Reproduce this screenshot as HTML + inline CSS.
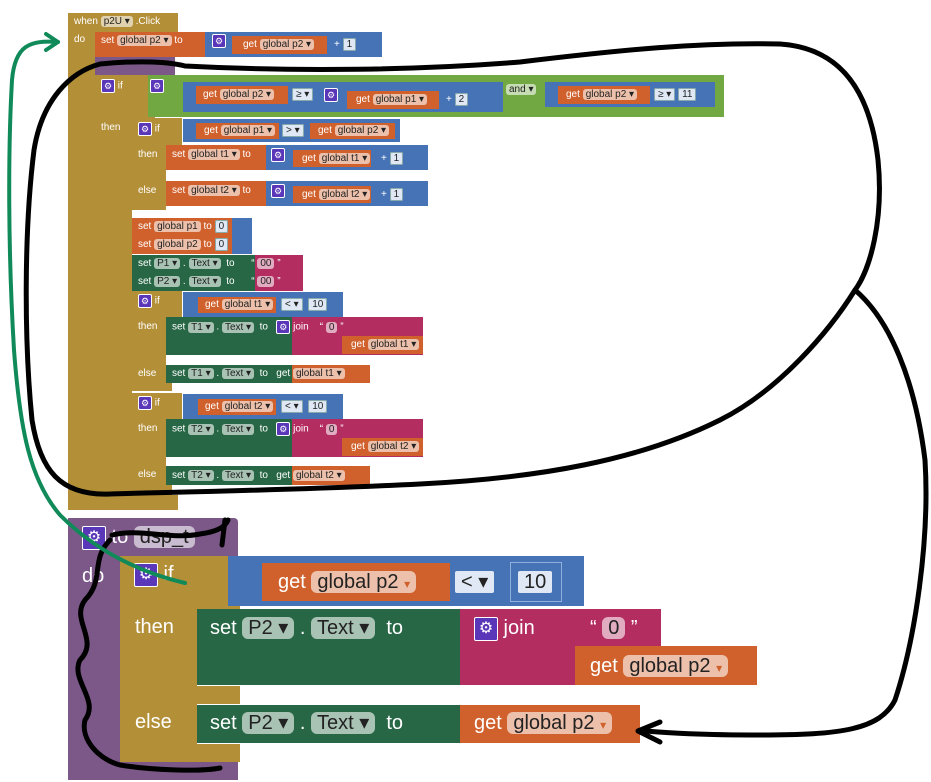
<!DOCTYPE html>
<html><head><meta charset="utf-8"><style>
body{margin:0;width:931px;height:782px;background:#fff;position:relative;overflow:hidden;font-family:"Liberation Sans",sans-serif}
.b{position:absolute}
.go{background:#b38f38}.o{background:#d0612c}.bl{background:#4673b6}.lg{background:#72a841}.dg{background:#276745}.m{background:#b42d61}.pu{background:#7c5889}
.t{position:absolute;color:#fff;font-size:10px;white-space:nowrap;line-height:14px}
.p{background:rgba(255,255,255,.6);color:#222;border-radius:3px;padding:0 3px}
.n{background:#dfe8f4;color:#222;border-radius:2px;padding:0 3px;border:1px solid #8aa}
.L{font-size:20px;line-height:26px}
.L .p{border-radius:6px;padding:0 6px}
.gear{display:inline-block;width:12px;height:12px;background:#5a36b8;border:1px solid #fff;border-radius:2px;vertical-align:middle;color:#fff;font-size:9px;line-height:12px;text-align:center}
.L .gear{width:22px;height:22px;font-size:16px;line-height:22px}
</style></head><body>
<!-- top event block -->
<div class="b go" style="left:68px;top:13px;width:110px;height:20px"></div>
<div class="b go" style="left:68px;top:13px;width:27px;height:497px"></div>
<div class="b go" style="left:68px;top:495px;width:110px;height:15px"></div>
<div class="t" style="left:74px;top:15px">when <span class="p">p2U ▾</span> .Click</div>
<div class="t" style="left:74px;top:33px">do</div>
<div class="b o" style="left:95px;top:32px;width:110px;height:25px"></div>
<div class="b bl" style="left:205px;top:32px;width:177px;height:25px"></div>
<div class="b o" style="left:232px;top:36px;width:95px;height:18px"></div>
<div class="t" style="left:101px;top:34px">set <span class="p">global p2 ▾</span> to</div>
<div class="t" style="left:212px;top:34px"><span class="gear">⚙</span></div>
<div class="t" style="left:243px;top:38px">get <span class="p">global p2 ▾</span></div>
<div class="t" style="left:334px;top:38px">+ <span class="n">1</span></div>
<div class="b pu" style="left:95px;top:57px;width:80px;height:18px"></div>
<!-- if block -->
<div class="b go" style="left:95px;top:75px;width:60px;height:43px"></div>
<div class="b go" style="left:95px;top:75px;width:37px;height:428px"></div>
<div class="b go" style="left:95px;top:490px;width:60px;height:13px"></div>
<div class="t" style="left:101px;top:79px"><span class="gear">⚙</span> if</div>
<div class="t" style="left:101px;top:121px">then</div>
<div class="b lg" style="left:148px;top:75px;width:576px;height:42px"></div>
<div class="t" style="left:150px;top:79px"><span class="gear">⚙</span></div>
<div class="b bl" style="left:183px;top:82px;width:320px;height:30px"></div>
<div class="b o" style="left:196px;top:86px;width:92px;height:18px"></div>
<div class="t" style="left:203px;top:88px">get <span class="p">global p2 ▾</span></div>
<div class="t" style="left:292px;top:88px"><span class="n">≥ ▾</span></div>
<div class="t" style="left:324px;top:88px"><span class="gear">⚙</span></div>
<div class="b o" style="left:347px;top:91px;width:92px;height:18px"></div>
<div class="t" style="left:356px;top:93px">get <span class="p">global p1 ▾</span></div>
<div class="t" style="left:446px;top:93px">+ <span class="n">2</span></div>
<div class="t" style="left:506px;top:83px"><span class="p">and ▾</span></div>
<div class="b bl" style="left:545px;top:82px;width:170px;height:25px"></div>
<div class="b o" style="left:558px;top:86px;width:92px;height:18px"></div>
<div class="t" style="left:566px;top:88px">get <span class="p">global p2 ▾</span></div>
<div class="t" style="left:654px;top:88px"><span class="n">≥ ▾</span> <span class="n">11</span></div>
<!-- inner if 1 -->
<div class="b go" style="left:132px;top:118px;width:50px;height:30px"></div>
<div class="b go" style="left:132px;top:118px;width:34px;height:92px"></div>
<div class="t" style="left:138px;top:122px"><span class="gear">⚙</span> if</div>
<div class="t" style="left:138px;top:148px">then</div>
<div class="t" style="left:138px;top:184px">else</div>
<div class="b bl" style="left:183px;top:119px;width:217px;height:23px"></div>
<div class="b o" style="left:196px;top:123px;width:83px;height:16px"></div>
<div class="t" style="left:204px;top:124px">get <span class="p">global p1 ▾</span></div>
<div class="t" style="left:282px;top:124px"><span class="n">&gt; ▾</span></div>
<div class="b o" style="left:310px;top:123px;width:85px;height:16px"></div>
<div class="t" style="left:318px;top:124px">get <span class="p">global p2 ▾</span></div>
<div class="b o" style="left:166px;top:145px;width:100px;height:25px"></div>
<div class="b bl" style="left:266px;top:145px;width:162px;height:25px"></div>
<div class="b o" style="left:293px;top:150px;width:78px;height:17px"></div>
<div class="t" style="left:172px;top:148px">set <span class="p">global t1 ▾</span> to</div>
<div class="t" style="left:271px;top:148px"><span class="gear">⚙</span></div>
<div class="t" style="left:302px;top:152px">get <span class="p">global t1 ▾</span></div>
<div class="t" style="left:381px;top:152px">+ <span class="n">1</span></div>
<div class="b o" style="left:166px;top:181px;width:100px;height:25px"></div>
<div class="b bl" style="left:266px;top:181px;width:162px;height:25px"></div>
<div class="b o" style="left:293px;top:186px;width:78px;height:17px"></div>
<div class="t" style="left:172px;top:184px">set <span class="p">global t2 ▾</span> to</div>
<div class="t" style="left:271px;top:184px"><span class="gear">⚙</span></div>
<div class="t" style="left:302px;top:188px">get <span class="p">global t2 ▾</span></div>
<div class="t" style="left:381px;top:188px">+ <span class="n">1</span></div>
<!-- sets -->
<div class="b o" style="left:132px;top:218px;width:100px;height:18px"></div>
<div class="b bl" style="left:232px;top:218px;width:20px;height:18px"></div>
<div class="t" style="left:138px;top:220px">set <span class="p">global p1</span> to <span class="n">0</span></div>
<div class="b o" style="left:132px;top:236px;width:100px;height:18px"></div>
<div class="b bl" style="left:232px;top:236px;width:20px;height:18px"></div>
<div class="t" style="left:138px;top:238px">set <span class="p">global p2</span> to <span class="n">0</span></div>
<div class="b dg" style="left:132px;top:255px;width:123px;height:18px"></div>
<div class="b m" style="left:255px;top:255px;width:48px;height:18px"></div>
<div class="t" style="left:138px;top:257px">set <span class="p">P1 ▾</span> . <span class="p">Text ▾</span> &nbsp;to &nbsp;&nbsp;&nbsp;&nbsp; “ <span class="p">00</span> ”</div>
<div class="b dg" style="left:132px;top:273px;width:123px;height:18px"></div>
<div class="b m" style="left:255px;top:273px;width:48px;height:18px"></div>
<div class="t" style="left:138px;top:275px">set <span class="p">P2 ▾</span> . <span class="p">Text ▾</span> &nbsp;to &nbsp;&nbsp;&nbsp;&nbsp; “ <span class="p">00</span> ”</div>
<!-- if 2 -->
<div class="b go" style="left:132px;top:291px;width:50px;height:27px"></div>
<div class="b go" style="left:132px;top:291px;width:34px;height:100px"></div>
<div class="b go" style="left:132px;top:383px;width:40px;height:8px"></div>
<div class="t" style="left:138px;top:294px"><span class="gear">⚙</span> if</div>
<div class="t" style="left:138px;top:320px">then</div>
<div class="t" style="left:138px;top:367px">else</div>
<div class="b bl" style="left:183px;top:292px;width:160px;height:25px"></div>
<div class="b o" style="left:198px;top:297px;width:78px;height:16px"></div>
<div class="t" style="left:205px;top:298px">get <span class="p">global t1 ▾</span></div>
<div class="t" style="left:281px;top:298px"><span class="n">&lt; ▾</span> &nbsp;<span class="n">10</span></div>
<div class="b dg" style="left:166px;top:317px;width:126px;height:38px"></div>
<div class="b m" style="left:292px;top:317px;width:131px;height:38px"></div>
<div class="b o" style="left:342px;top:336px;width:81px;height:18px"></div>
<div class="t" style="left:172px;top:320px">set <span class="p">T1 ▾</span> . <span class="p">Text ▾</span> &nbsp;to &nbsp;&nbsp;<span class="gear">⚙</span> join &nbsp;&nbsp;&nbsp;“ <span class="p">0</span> ”</div>
<div class="t" style="left:351px;top:338px">get <span class="p">global t1 ▾</span></div>
<div class="b dg" style="left:166px;top:365px;width:126px;height:18px"></div>
<div class="b o" style="left:292px;top:365px;width:78px;height:18px"></div>
<div class="t" style="left:172px;top:367px">set <span class="p">T1 ▾</span> . <span class="p">Text ▾</span> &nbsp;to &nbsp;&nbsp;get <span class="p">global t1 ▾</span></div>
<!-- if 3 -->
<div class="b go" style="left:132px;top:393px;width:50px;height:27px"></div>
<div class="b go" style="left:132px;top:393px;width:34px;height:102px"></div>
<div class="b go" style="left:132px;top:485px;width:40px;height:10px"></div>
<div class="t" style="left:138px;top:396px"><span class="gear">⚙</span> if</div>
<div class="t" style="left:138px;top:422px">then</div>
<div class="t" style="left:138px;top:468px">else</div>
<div class="b bl" style="left:183px;top:394px;width:160px;height:25px"></div>
<div class="b o" style="left:198px;top:399px;width:78px;height:16px"></div>
<div class="t" style="left:205px;top:400px">get <span class="p">global t2 ▾</span></div>
<div class="t" style="left:281px;top:400px"><span class="n">&lt; ▾</span> &nbsp;<span class="n">10</span></div>
<div class="b dg" style="left:166px;top:419px;width:126px;height:38px"></div>
<div class="b m" style="left:292px;top:419px;width:131px;height:38px"></div>
<div class="b o" style="left:342px;top:438px;width:81px;height:18px"></div>
<div class="t" style="left:172px;top:422px">set <span class="p">T2 ▾</span> . <span class="p">Text ▾</span> &nbsp;to &nbsp;&nbsp;<span class="gear">⚙</span> join &nbsp;&nbsp;&nbsp;“ <span class="p">0</span> ”</div>
<div class="t" style="left:351px;top:440px">get <span class="p">global t2 ▾</span></div>
<div class="b dg" style="left:166px;top:466px;width:126px;height:19px"></div>
<div class="b o" style="left:292px;top:466px;width:78px;height:19px"></div>
<div class="t" style="left:172px;top:469px">set <span class="p">T2 ▾</span> . <span class="p">Text ▾</span> &nbsp;to &nbsp;&nbsp;get <span class="p">global t2 ▾</span></div>

<!-- bottom procedure -->
<div class="b pu" style="left:68px;top:518px;width:170px;height:38px;border-radius:4px 4px 0 0"></div>
<div class="b pu" style="left:68px;top:518px;width:52px;height:262px"></div>
<div class="b pu" style="left:68px;top:762px;width:170px;height:18px"></div>
<div class="t L" style="left:82px;top:524px"><span class="gear">⚙</span> to <span class="p">dsp_t</span></div>
<div class="t L" style="left:82px;top:563px">do</div>
<div class="b go" style="left:120px;top:556px;width:120px;height:54px"></div>
<div class="b go" style="left:120px;top:556px;width:77px;height:206px"></div>
<div class="b go" style="left:120px;top:686px;width:120px;height:18px"></div>
<div class="b go" style="left:120px;top:744px;width:120px;height:18px"></div>
<div class="t L" style="left:134px;top:561px"><span class="gear">⚙</span> if</div>
<div class="t L" style="left:135px;top:614px">then</div>
<div class="t L" style="left:135px;top:709px">else</div>
<div class="b bl" style="left:228px;top:556px;width:356px;height:50px"></div>
<div class="b o" style="left:262px;top:563px;width:188px;height:38px"></div>
<div class="t L" style="left:278px;top:569px">get <span class="p">global p2 <span style="color:#d0612c;font-size:12px">▾</span></span></div>
<div class="t L" style="left:455px;top:569px"><span class="n" style="border:0;padding:0 6px">&lt; ▾</span></div>
<div class="b" style="left:510px;top:562px;width:50px;height:38px;border:1px solid #8fb0dc"></div>
<div class="t L" style="left:518px;top:569px"><span class="n" style="border:0;padding:0 6px">10</span></div>
<div class="b dg" style="left:197px;top:609px;width:263px;height:76px"></div>
<div class="b m" style="left:460px;top:609px;width:115px;height:76px"></div>
<div class="b m" style="left:575px;top:609px;width:86px;height:38px"></div>
<div class="b o" style="left:575px;top:646px;width:182px;height:39px"></div>
<div class="t L" style="left:210px;top:615px">set <span class="p">P2 ▾</span> . <span class="p">Text ▾</span> &nbsp;to</div>
<div class="t L" style="left:474px;top:615px"><span class="gear">⚙</span> join</div>
<div class="t L" style="left:590px;top:615px">“ <span class="p">0</span> ”</div>
<div class="t L" style="left:590px;top:653px">get <span class="p">global p2 <span style="color:#d0612c;font-size:12px">▾</span></span></div>
<div class="b dg" style="left:197px;top:705px;width:263px;height:38px"></div>
<div class="b o" style="left:460px;top:705px;width:180px;height:38px"></div>
<div class="t L" style="left:210px;top:710px">set <span class="p">P2 ▾</span> . <span class="p">Text ▾</span> &nbsp;to</div>
<div class="t L" style="left:474px;top:710px">get <span class="p">global p2 <span style="color:#d0612c;font-size:12px">▾</span></span></div>

<svg class="b" style="left:0;top:0" width="931" height="782" fill="none" stroke-linecap="round" stroke-linejoin="round">
<path d="M100,64 C140,60 170,62 185,66 C300,72 420,70 520,62 C620,50 700,42 780,44 C840,48 870,90 878,160 C884,220 870,270 855,290 C830,330 780,390 720,420 C640,460 540,478 420,484 C300,490 180,492 110,494 C60,496 40,470 32,420 C24,340 24,230 34,150 C42,100 70,72 100,64" stroke="#000" stroke-width="5"/>
<path d="M855,290 C890,320 915,380 925,460 C930,540 915,640 895,700 C880,730 840,735 760,735 C700,735 670,733 645,731" stroke="#000" stroke-width="5"/>
<path d="M660,722 L638,731 L660,742" stroke="#000" stroke-width="5"/>
<path d="M112,535 C140,528 170,540 200,534 C215,532 225,528 228,520 M225,520 L222,545" stroke="#000" stroke-width="5"/>
<path d="M110,540 C90,560 105,580 85,600 C70,620 100,640 80,660 C70,680 100,700 85,720 C80,740 100,760 120,765 C150,770 200,772 220,768" stroke="#000" stroke-width="5"/>
<path d="M58,42 C30,40 15,45 12,80 C8,150 8,250 14,350 C20,430 30,480 60,515 C90,545 130,570 185,583" stroke="#118a5a" stroke-width="4"/>
<path d="M46,34 L58,42 L46,50" stroke="#118a5a" stroke-width="4"/>
</svg>
</body></html>
